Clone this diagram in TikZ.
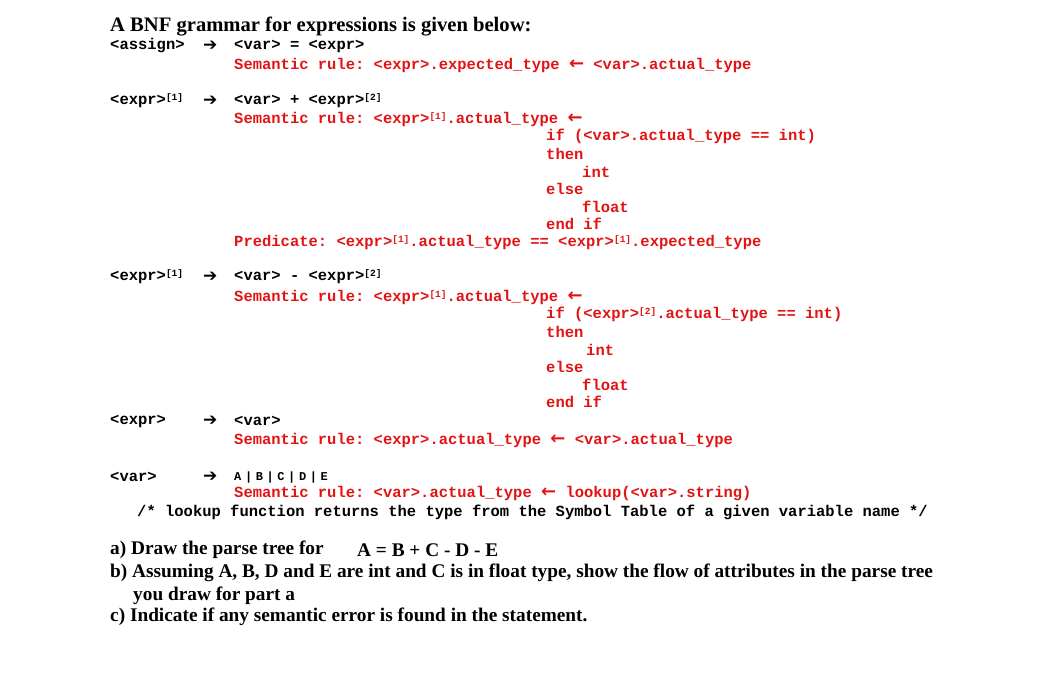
\documentclass[tikz,border=0pt]{standalone}
\usepackage{fontspec}
\setmainfont{Liberation Serif}
\setmonofont{Liberation Mono}
\newfontfamily\symf{DejaVu Sans}
\definecolor{rd}{RGB}{225,20,20}
\newcommand{\supx}[1]{\raisebox{0.45ex}{\fontsize{9.5}{9.5}\selectfont #1}}
\newcommand{\ra}{{\symf\bfseries\fontsize{17}{17}\selectfont ➔}}
\newcommand{\la}{{\symf\bfseries\fontsize{18}{18}\selectfont ←}}
\begin{document}
\begin{tikzpicture}[x=1pt,y=-1pt,
  t/.style={anchor=west,inner sep=0pt,font=\ttfamily\bfseries\fontsize{15.5}{15.5}\selectfont},
  r/.style={t,text=rd},
  s/.style={anchor=west,inner sep=0pt,font=\bfseries\fontsize{19.3}{19.3}\selectfont}]
\useasboundingbox (0,0) rectangle (1047,675);
\node[s,font=\bfseries\fontsize{20.6}{20.6}\selectfont] (title) at (110,27) {A BNF grammar for expressions is given below:};
\node[t] (l1) at (110,46) {<assign>};
\node[t] (a1) at (203,46) {\ra};
\node[t] (r1) at (234,46) {<var> = <expr>};
\node[r] (s1) at (234,65) {Semantic rule: <expr>.expected\_type \la{} <var>.actual\_type};
\node[t] (l2) at (110,101) {<expr>\supx{[1]}};
\node[t] (a2) at (203,101) {\ra};
\node[t] (r2) at (234,101) {<var> + <expr>\supx{[2]}};
\node[r] (s2) at (234,119) {Semantic rule: <expr>\supx{[1]}.actual\_type \la};
\node[r] at (546,136) {if (<var>.actual\_type == int)};
\node[r] at (546,154) {then};
\node[r] at (582,172) {int};
\node[r] at (546,189) {else};
\node[r] at (582,207) {float};
\node[r] at (546,224) {end if};
\node[r] (p2) at (234,242) {Predicate: <expr>\supx{[1]}.actual\_type == <expr>\supx{[1]}.expected\_type};
\node[t] (l3) at (110,277) {<expr>\supx{[1]}};
\node[t] (a3) at (203,277) {\ra};
\node[t] (r3) at (234,277) {<var> - <expr>\supx{[2]}};
\node[r] (s3) at (234,297) {Semantic rule: <expr>\supx{[1]}.actual\_type \la};
\node[r] at (546,314) {if (<expr>\supx{[2]}.actual\_type == int)};
\node[r] at (546,332) {then};
\node[r] at (586,350) {int};
\node[r] at (546,367) {else};
\node[r] at (582,385) {float};
\node[r] at (546,402) {end if};
\node[t] (l4) at (110,421) {<expr>};
\node[t] (a4) at (203,421) {\ra};
\node[t] (r4) at (234,421) {<var>};
\node[r] (s4) at (234,440) {Semantic rule: <expr>.actual\_type \la{} <var>.actual\_type};
\node[t] (l5) at (110,477) {<var>};
\node[t] (a5) at (203,477) {\ra};
\node[t,font=\ttfamily\bfseries\fontsize{15.5}{15.5}\selectfont] (r5) at (234,477) {\fontsize{12}{12}\selectfont A\hspace{0.3em}|\hspace{0.3em}B\hspace{0.3em}|\hspace{0.3em}C\hspace{0.3em}|\hspace{0.3em}D\hspace{0.3em}|\hspace{0.3em}E};
\node[r] (s5) at (234,494) {Semantic rule: <var>.actual\_type \la{} lookup(<var>.string)};
\node[t] (cm) at (137,512) {/* lookup function returns the type from the Symbol Table of a given variable name */};
\node[s] (qa) at (110,550) {a) Draw the parse tree for};
\node[s] (qa2) at (357,550) {A = B + C - D - E};
\node[s] (qb) at (110,573) {b) Assuming A, B, D and E are int and C is in float type, show the flow of attributes in the parse tree};
\node[s] (qb2) at (133,596) {you draw for part a};
\node[s] (qc) at (110,617) {c) Indicate if any semantic error is found in the statement.};
\end{tikzpicture}
\end{document}
